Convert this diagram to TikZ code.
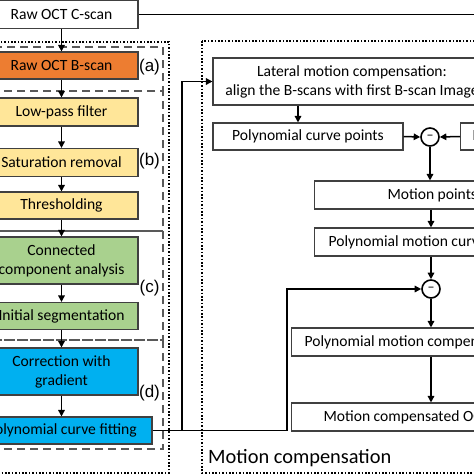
\documentclass[tikz,border=0pt]{standalone}
\usepackage{fontspec}
\setmainfont{Carlito}
\newfontfamily\labfont{Liberation Sans}
\usetikzlibrary{arrows.meta,calc}
\definecolor{cOrange}{RGB}{237,125,49}
\definecolor{cYellow}{RGB}{255,230,153}
\definecolor{cGreen}{RGB}{169,209,142}
\definecolor{cBlue}{RGB}{0,176,240}
\begin{document}
\begin{tikzpicture}[x=1pt,y=-1pt,
 box/.style={draw=black!75, line width=1.1pt, inner sep=0pt, font=\fontsize{15.6}{19}\selectfont, align=center},
 arr/.style={line width=1.5pt, -{Triangle[length=6.5pt,width=6.5pt]}},
 ln/.style={line width=1.5pt},
 dotbox/.style={line width=1.8pt, dash pattern=on 1.6pt off 1.8pt},
 dashbox/.style={draw=black!65, line width=1.3pt, dash pattern=on 8pt off 5pt},
 lab/.style={font=\labfont\fontsize{17}{17}\selectfont, inner sep=0pt},
 minus/.style={circle, draw=black, line width=1.6pt, minimum size=18pt, inner sep=0pt, font=\fontsize{14}{14}\selectfont}
]
\useasboundingbox (0,0) rectangle (474,474);
\fill[white] (0,0) rectangle (474,474);

% frames
\draw[dotbox] (-40,42) rectangle (169,473);
\draw[dotbox] (202,41) rectangle (520,473);
\draw[dashbox] (-30,47) rectangle (163,91);
\draw[dashbox] (-30,91) rectangle (163,231);
\draw[dashbox] (-30,231) rectangle (163,340);
\draw[dashbox] (-30,340) rectangle (163,449);

% left column
\node[box, fill=white, minimum width=153pt, minimum height=28.5pt] (cscan) at (61.5,14.5) {Raw OCT C-scan};
\node[box, fill=cOrange, minimum width=153pt, minimum height=27pt] (bscan) at (61.5,65.5) {Raw OCT B-scan};
\node[box, fill=cYellow, minimum width=153pt, minimum height=28pt] (lpf) at (61.5,112) {Low-pass filter};
\node[box, fill=cYellow, minimum width=153pt, minimum height=28pt] (sat) at (61.5,162.5) {Saturation removal};
\node[box, fill=cYellow, minimum width=153pt, minimum height=27pt] (thr) at (61.5,205.5) {Thresholding};
\node[box, fill=cGreen, minimum width=153pt, minimum height=47pt] (cca) at (61.5,260.5) {Connected\\component analysis};
\node[box, fill=cGreen, minimum width=153pt, minimum height=27pt] (iseg) at (61.5,316) {Initial segmentation};
\node[box, fill=cBlue, minimum width=153pt, minimum height=47pt] (corr) at (61.5,371.5) {Correction with\\gradient};
\node[box, fill=cBlue, minimum width=180pt, minimum height=27pt] (pfit) at (62,430.5) {Polynomial curve fitting};

\node[lab] (la) at (149.5,67) {(a)};
\node[lab] (lb) at (149.5,161) {(b)};
\node[lab] (lc) at (149.5,288) {(c)};
\node[lab] (ld) at (149.5,393) {(d)};

\draw[arr] (cscan) -- (bscan);
\draw[arr] (bscan) -- (lpf);
\draw[arr] (lpf) -- (sat);
\draw[arr] (sat) -- (thr);
\draw[arr] (thr) -- (cca);
\draw[arr] (cca) -- (iseg);
\draw[arr] (iseg) -- (corr);
\draw[arr] (corr.south) -- (corr.south |- pfit.north);

\coordinate (cend) at (490,14.5);
\draw[ln] (cscan.east) -- (cend);

% right side
\node[box, minimum width=278pt, minimum height=47pt] (lat) at (352,81.5) {Lateral motion compensation:\\align the B-scans with first B-scan Image};
\node[box, minimum width=190pt, minimum height=27pt] (pcp) at (308,136.5) {Polynomial curve points};
\node[minus] (c1) at (430,137) {--};
\node[box, anchor=west, minimum height=27pt, inner xsep=12pt] (fpts) at (460,136.5) {Polynomial curve points};
\node[box, anchor=west, minimum height=28pt, inner xsep=73pt] (mp) at (314,195) {Motion points};
\node[box, anchor=west, minimum height=28pt, inner xsep=14pt] (pmc) at (314,242) {Polynomial motion curve fitting};
\node[minus] (c2) at (431,289) {--};
\node[box, anchor=west, minimum height=28pt, inner xsep=13pt] (pcomp) at (291,342) {Polynomial motion compensation};
\node[box, anchor=west, minimum height=28pt, inner xsep=32pt] (mcomp) at (291,417) {Motion compensated OCT C-scan};

\node[anchor=base west, inner sep=0pt, font=\fontsize{20.4}{24}\selectfont] (mclab) at (208,463) {Motion compensation};

\coordinate (a1) at (298,0);
\draw[arr] (a1 |- lat.south) -- (a1 |- pcp.north);
\draw[arr] (pcp.east) -- (c1.west);
\draw[arr] (fpts.west) -- (c1.east);
\draw[arr] (c1.south) -- (c1.south |- mp.north);
\coordinate (a2) at (431,0);
\draw[arr] (a2 |- mp.south) -- (a2 |- pmc.north);
\draw[arr] (a2 |- pmc.south) -- (c2.north);
\draw[arr] (c2.south) -- (a2 |- pcomp.north);
\draw[arr] (a2 |- pcomp.south) -- (a2 |- mcomp.north);

\coordinate (j1) at (182,430.5);
\coordinate (j2) at (287,430.5);
\draw[ln] (pfit.east) -- (j2);
\draw[arr] (j1) -- (j1 |- lat.west) -- (lat.west);
\draw[arr] (j2) -- (j2 |- c2.west) -- (c2.west);
\end{tikzpicture}
\end{document}
